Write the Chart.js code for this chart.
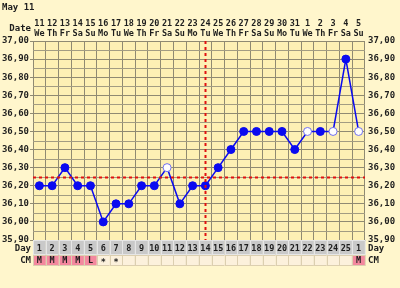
<!DOCTYPE html>
<html>
<head>
<meta charset="utf-8">
<script src="https://cdn.jsdelivr.net/npm/chart.js@4"></script>
<style>
  body { margin: 0; background: #fff6cc; }
  canvas { display: block; }
</style>
</head>
<body>
<canvas id="bbtChart" width="400" height="288"></canvas>
<script>
const monthLabel = 'May 11';
const dates = ['11','12','13','14','15','16','17','18','19','20','21','22','23','24','25','26','27','28','29','30','31','1','2','3','4','5'];
const weekdays = ['We','Th','Fr','Sa','Su','Mo','Tu','We','Th','Fr','Sa','Su','Mo','Tu','We','Th','Fr','Sa','Su','Mo','Tu','We','Th','Fr','Sa','Su'];
const cycleDays = ['1','2','3','4','5','6','7','8','9','10','11','12','13','14','15','16','17','18','19','20','21','22','23','24','25','1'];
const temps = [36.20, 36.20, 36.30, 36.20, 36.20, 36.00, 36.10, 36.10, 36.20, 36.20, 36.30, 36.10, 36.20, 36.20, 36.30, 36.40, 36.50, 36.50, 36.50, 36.50, 36.40, 36.50, 36.50, 36.50, 36.90, 36.50];
const openPoints = [10, 21, 23, 25];
const cm = ['M','M','M','M','L','*','*','','','','','','','','','','','','','','','','','','','M'];
const pinkCm = ['M', 'L'];
const coverLine = 36.25;
const ovulationIndex = 13;
const tempMin = 35.9, tempMax = 37.0, tempStep = 0.1;

const FONT = 'bold 9px "DejaVu Sans Mono"';
const SMALL_FONT = 'bold 8.5px "DejaVu Sans Mono"';
const TEXT = '#1e1e1e';
const GRID = '#8f8a72';

const tempLabel = v => v.toFixed(2).replace('.', ',');

const chartDecor = {
  id: 'chartDecor',
  beforeDraw(chart) {
    const { ctx, chartArea: a } = chart;
    ctx.save();
    ctx.fillStyle = '#fff6cc';
    ctx.fillRect(0, 0, chart.width, chart.height);
    ctx.fillStyle = '#fdf0b4';
    ctx.fillRect(a.left, a.top, a.right - a.left, a.bottom - a.top);
    ctx.restore();
  },
  beforeDatasetsDraw(chart) {
    // half-step grid lines between the labelled ones
    const { ctx, chartArea: a, scales } = chart;
    ctx.save();
    ctx.strokeStyle = '#a29c82';
    ctx.lineWidth = 1;
    scales.y.ticks.forEach((t, i, arr) => {
      if (i === arr.length - 1) return;
      const py = Math.round(scales.y.getPixelForValue(t.value + tempStep / 2)) + 0.5;
      ctx.beginPath();
      ctx.moveTo(a.left, py);
      ctx.lineTo(a.right, py);
      ctx.stroke();
    });
    ctx.restore();
  },
  afterDatasetsDraw(chart) {
    const { ctx, chartArea: a, scales } = chart;
    const x = scales.x, y = scales.y;
    ctx.save();
    ctx.strokeStyle = '#e01010';
    ctx.lineWidth = 2;
    ctx.setLineDash([3, 3]);
    const cy = Math.round(y.getPixelForValue(coverLine)) + 0.5;
    ctx.beginPath();
    ctx.moveTo(a.left, cy);
    ctx.lineTo(a.right, cy);
    ctx.stroke();
    const vx = Math.round(x.getPixelForValue(ovulationIndex)) + 0.5;
    ctx.beginPath();
    ctx.moveTo(vx, a.top);
    ctx.lineTo(vx, a.bottom);
    ctx.stroke();
    ctx.restore();
  },
  afterDraw(chart) {
    const { ctx, chartArea: a, scales } = chart;
    const x = scales.x;
    const colW = (a.right - a.left) / dates.length;
    ctx.save();
    ctx.font = FONT;
    ctx.fillStyle = TEXT;
    ctx.textBaseline = 'middle';

    ctx.textAlign = 'left';
    ctx.fillText(monthLabel, 2, 8);
    ctx.textAlign = 'right';
    ctx.fillText('Date', 31, 29);

    ctx.font = SMALL_FONT;
    ctx.textAlign = 'center';
    dates.forEach((d, i) => {
      const cx = x.getPixelForValue(i);
      ctx.fillText(d, cx, 24);
      ctx.fillText(weekdays[i], cx, 34);
    });

    // day row and cm row under the plot
    const dayTop = a.bottom, dayH = 15;
    const cmTop = dayTop + dayH, cmH = 11;
    cycleDays.forEach((d, i) => {
      const x0 = a.left + i * colW;
      ctx.fillStyle = '#c9c9c9';
      ctx.fillRect(x0, dayTop, colW, dayH);
      ctx.strokeStyle = '#e6e6e6';
      ctx.lineWidth = 1;
      ctx.strokeRect(Math.round(x0) + 0.5, dayTop + 0.5, colW, dayH - 1);

      ctx.fillStyle = pinkCm.includes(cm[i]) ? '#f3889e' : '#fcf1dc';
      ctx.fillRect(x0, cmTop, colW, cmH);
      ctx.strokeStyle = '#dccfb0';
      ctx.strokeRect(Math.round(x0) + 0.5, cmTop + 0.5, colW, cmH - 1);

      ctx.fillStyle = TEXT;
      ctx.fillText(d, x0 + colW / 2, dayTop + dayH / 2 + 1);
      if (cm[i]) ctx.fillText(cm[i], x0 + colW / 2, cmTop + cmH / 2 + (cm[i] === '*' ? 2 : 0));
    });

    ctx.font = FONT;
    ctx.textAlign = 'right';
    ctx.fillText('Day', 31, dayTop + dayH / 2 + 1);
    ctx.fillText('CM', 31, cmTop + cmH / 2);
    ctx.textAlign = 'left';
    ctx.fillText('Day', a.right + 3, dayTop + dayH / 2 + 1);
    ctx.fillText('CM', a.right + 3, cmTop + cmH / 2);
    ctx.restore();
  }
};

const tickFont = { family: 'DejaVu Sans Mono', size: 9, weight: 'bold' };

new Chart(document.getElementById('bbtChart'), {
  type: 'line',
  data: {
    labels: dates,
    datasets: [{
      data: temps,
      borderColor: '#0a0af0',
      borderWidth: 1.5,
      pointRadius: 4,
      pointBorderWidth: 1,
      pointBackgroundColor: temps.map((t, i) => openPoints.includes(i) ? '#ffffff' : '#0a0af0'),
      pointBorderColor: temps.map((t, i) => openPoints.includes(i) ? '#7070f0' : '#0a0af0'),
      tension: 0
    }]
  },
  options: {
    responsive: false,
    animation: false,
    events: [],
    layout: { padding: { top: 41, left: 0, right: 0, bottom: 0 } },
    plugins: { legend: { display: false }, tooltip: { enabled: false } },
    scales: {
      x: {
        offset: true,
        grid: { offset: true, color: GRID, tickLength: 0 },
        border: { color: GRID },
        ticks: { display: false },
        afterFit(scale) { scale.height = 48; }
      },
      y: {
        position: 'left',
        min: tempMin,
        max: tempMax,
        grid: { color: GRID, tickLength: 3 },
        border: { color: GRID },
        ticks: {
          stepSize: tempStep,
          maxTicksLimit: 100,
          autoSkip: false,
          padding: 1,
          color: TEXT,
          font: tickFont,
          callback: v => tempLabel(v)
        },
        afterFit(scale) { scale.width = 33; }
      },
      y2: {
        position: 'right',
        min: tempMin,
        max: tempMax,
        grid: { display: false, drawTicks: false, tickLength: 0 },
        border: { display: false },
        ticks: {
          stepSize: tempStep,
          maxTicksLimit: 100,
          autoSkip: false,
          padding: 3,
          color: TEXT,
          font: tickFont,
          callback: v => tempLabel(v)
        },
        afterFit(scale) { scale.width = 35; }
      }
    }
  },
  plugins: [chartDecor]
});
</script>
</body>
</html>
